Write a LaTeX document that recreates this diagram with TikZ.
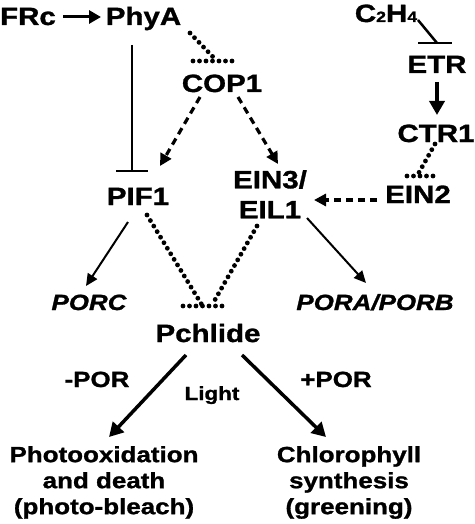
\documentclass[tikz,border=0pt]{standalone}
\usepackage{fontspec}
\setmainfont{Liberation Sans Bold}[FakeStretch=1.18, FakeBold=1.2, ItalicFont={Liberation Sans Bold Italic}, BoldFont={Liberation Sans Bold}, BoldItalicFont={Liberation Sans Bold Italic}]
\usetikzlibrary{arrows.meta}
\tikzset{
  lbl/.style={font=\fontsize{25}{30}\selectfont, inner sep=0pt, anchor=base},
  gene/.style={font=\fontsize{22}{26}\selectfont\itshape, inner sep=0pt, anchor=base},
  sm/.style={font=\fontsize{22}{26}\selectfont, inner sep=0pt, anchor=base},
  blk/.style={font=\fontsize{22}{26}\selectfont, inner sep=0pt, anchor=north, align=center},
  thinarr/.style={line width=2pt, -{Triangle[length=12pt,width=11pt]}},
  thickarr/.style={line width=3.5pt, -{Triangle[length=14pt,width=15pt]}},
  dasharr/.style={line width=3.2pt, dash pattern=on 7pt off 5pt, -{Triangle[length=12pt,width=12pt]}},
  dotline/.style={line width=4.8pt, line cap=round, dash pattern=on 0pt off 6.5pt},
  inhline/.style={line width=2pt},
}
\begin{document}
\begin{tikzpicture}[x=1pt,y=-1pt]
\useasboundingbox[fill=white] (0,0) rectangle (474,524);
% nodes
\node[lbl] (frc) at (28,25) {FRc};
\node[lbl] (phya) at (143.5,25) {PhyA};
\node[lbl] (cop1) at (222,92) {COP1};
\node[lbl] (pif1) at (138,205) {PIF1};
\node[lbl, anchor=north, align=center] (ein3) at (270,170) {EIN3/\\EIL1};
\node[lbl] (c2h4) at (386,22) {C{\fontsize{15}{15}\selectfont 2}H{\fontsize{15}{15}\selectfont 4}};
\node[lbl] (etr) at (437,73) {ETR};
\node[lbl] (ctr1) at (436,142) {CTR1};
\node[lbl] (ein2) at (418,203) {EIN2};
\node[gene] (porc) at (89,310) {PORC};
\node[gene] (porab) at (375,310) {PORA/PORB};
\node[lbl] (pchl) at (208,342) {Pchlide};
\node[sm] (mpor) at (97,387) {-POR};
\node[sm] (ppor) at (336,387) {+POR};
\node[font=\fontsize{19}{22}\selectfont, inner sep=0pt, anchor=base] (light) at (212,400) {Light};
\node[blk] (photo) at (104,446) {Photooxidation\\and death\\(photo-bleach)};
\node[blk] (chl) at (349,446) {Chlorophyll\\synthesis\\(greening)};
% connector end points
\coordinate (frcE) at (63,17);
\coordinate (phyaW) at (101,17);
\coordinate (phyaS) at (132,45);
\coordinate (pif1T) at (132,171);
\coordinate (pifBarL) at (116,171);
\coordinate (pifBarR) at (148,171);
\coordinate (phyaSE) at (190,33);
\coordinate (cop1T) at (216,60);
\coordinate (copBarL) at (193,61);
\coordinate (copBarR) at (233,61);
\coordinate (cop1SW) at (200,97);
\coordinate (pif1NE) at (160,166);
\coordinate (cop1SE) at (238,97);
\coordinate (ein3N) at (278,164);
\coordinate (c2h4E) at (418,20);
\coordinate (etrT) at (437,43);
\coordinate (etrBarL) at (418,43);
\coordinate (etrBarR) at (452,43);
\coordinate (etrS) at (437,82);
\coordinate (ctr1N) at (437,115);
\coordinate (ctr1S) at (435,144);
\coordinate (ein2T) at (417,176);
\coordinate (ein2BarL) at (407,176);
\coordinate (ein2BarR) at (437,176);
\coordinate (ein2W) at (377,200);
\coordinate (ein3E) at (314,200);
\coordinate (pif1SW) at (128,222);
\coordinate (porcN) at (86,286);
\coordinate (pif1SE) at (147,215);
\coordinate (pchlT1) at (202,305);
\coordinate (ein3SW) at (257,226);
\coordinate (pchlT2) at (212,305);
\coordinate (pchlBarL) at (183,306);
\coordinate (pchlBarR) at (228,306);
\coordinate (ein3SE) at (307,218);
\coordinate (porabN) at (366,283);
\coordinate (pchlSW) at (186,355);
\coordinate (photoN) at (109,437);
\coordinate (pchlSE) at (242,355);
\coordinate (chlN) at (326,437);
% connectors
\draw[line width=3pt, -{Triangle[length=12pt,width=13pt]}] (frcE) -- (phyaW);
\draw[inhline] (phyaS) -- (pif1T);
\draw[inhline] (pifBarL) -- (pifBarR);
\draw[dotline] (phyaSE) -- (cop1T);
\draw[dotline] (copBarL) -- (copBarR);
\draw[dasharr] (cop1SW) -- (pif1NE);
\draw[dasharr] (cop1SE) -- (ein3N);
\draw[line width=2.5pt] (c2h4E) -- (etrT);
\draw[line width=2.5pt] (etrBarL) -- (etrBarR);
\draw[thickarr] (etrS) -- (ctr1N);
\draw[dotline] (ctr1S) -- (ein2T);
\draw[dotline] (ein2BarL) -- (ein2BarR);
\draw[dasharr] (ein2W) -- (ein3E);
\draw[thinarr] (pif1SW) -- (porcN);
\draw[dotline] (pif1SE) -- (pchlT1);
\draw[dotline] (ein3SW) -- (pchlT2);
\draw[dotline] (pchlBarL) -- (pchlBarR);
\draw[thinarr] (ein3SE) -- (porabN);
\draw[thickarr] (pchlSW) -- (photoN);
\draw[thickarr] (pchlSE) -- (chlN);
\end{tikzpicture}
\end{document}
